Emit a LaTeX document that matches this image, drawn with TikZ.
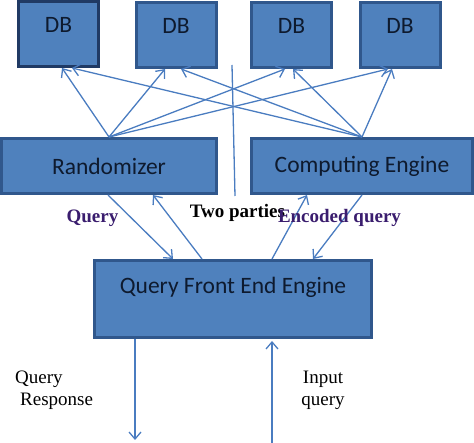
\documentclass[tikz,border=0pt]{standalone}
\usepackage{fontspec}
\setmainfont{Liberation Serif}
\newfontfamily\boxfont{Carlito}
\usepackage{tikz}
\usetikzlibrary{positioning, arrows.meta, calc}

\definecolor{boxfill}{HTML}{4F81BD}
\definecolor{boxline}{HTML}{30578C}
\definecolor{dbdark}{HTML}{203A64}
\definecolor{linkblue}{HTML}{4A7CC0}
\definecolor{boxtext}{HTML}{0E1A2E}
\definecolor{labelpurple}{HTML}{3A1D6E}

\begin{document}
\begin{tikzpicture}[
    x=1pt, y=-1pt,
    block/.style={draw=boxline, line width=3pt, fill=boxfill, inner sep=0pt,
        text=boxtext, font=\boxfont\fontsize{23.5}{28}\selectfont},
    dbbox/.style={block, minimum width=80pt, minimum height=65pt,
        text height=15pt, text depth=17pt},
    link/.style={-{Straight Barb[length=7pt, width=12pt]}, line width=1.3pt, draw=linkblue},
    tag/.style={font=\bfseries\fontsize{19}{22}\selectfont, inner sep=0pt},
    note/.style={font=\fontsize{19}{22}\selectfont, inner sep=0pt}
]
    \useasboundingbox (0, 0) rectangle (474, 443);

    % === Databases ===
    \node[dbbox, draw=dbdark] (db1) at (58.5, 34) {DB};
    \node[dbbox] (db2) at (176, 35) {DB};
    \node[dbbox] (db3) at (291.5, 35) {DB};
    \node[dbbox] (db4) at (400, 35) {DB};

    % === Two parties ===
    \node[block, minimum width=215pt, minimum height=55pt] (rand) at (109, 166) {Randomizer};
    \node[block, minimum width=221pt, minimum height=55pt] (comp) at (362, 166) {Computing Engine};

    % === Front end ===
    \node[block, minimum width=277pt, minimum height=77pt,
        text height=16pt, text depth=26pt] (front) at (233, 299) {Query Front End Engine};

    % Randomizer to every DB
    \draw[link] (rand.north) -- ([xshift=3.5pt]db1.south);
    \draw[link] (rand.north) -- ([xshift=-11pt]db2.south);
    \draw[link] (rand.north) -- ([xshift=-6.5pt]db3.south);
    \draw[link] (rand.north) -- ([xshift=-12pt]db4.south);

    % Computing engine to every DB
    \draw[link] (comp.north) -- ([xshift=13.5pt]db1.south);
    \draw[link] (comp.north) -- ([xshift=5pt]db2.south);
    \draw[link] (comp.north) -- ([xshift=1.5pt]db3.south);
    \draw[link] (comp.north) -- ([xshift=-8pt]db4.south);

    % Dividing line
    \coordinate (split top) at (232, 65);
    \coordinate (split bottom) at (235, 196);
    \draw[line width=1.3pt, linkblue] (split top) -- (split bottom);

    % Query and encoded query
    \draw[link] ([xshift=-1pt]rand.south) -- ([xshift=-60pt]front.north);
    \draw[link] ([xshift=-31pt]front.north) -- ([xshift=44pt]rand.south);
    \draw[link] ([xshift=39pt]front.north) -- ([xshift=-55pt]comp.south);
    \draw[link] (comp.south) -- ([xshift=80pt]front.north);

    \node[tag, labelpurple] (query) at (92.5, 218) {Query};
    \node[tag] (parties) at (237.5, 213) {Two parties};
    \node[tag, labelpurple] (encoded) at (339.5, 218) {Encoded query};

    % Input and response
    \coordinate (response end) at (135, 440);
    \coordinate (input start) at (272, 443);
    \draw[link] ([xshift=-98pt]front.south) -- (response end);
    \draw[link] (input start) -- ([xshift=39pt, yshift=-2pt]front.south);

    \node[note, align=left, anchor=west] (response) at (15, 390) {Query\\\hspace{5pt}Response};
    \node[note, align=center] (input) at (323, 390) {Input\\query};
\end{tikzpicture}
\end{document}
